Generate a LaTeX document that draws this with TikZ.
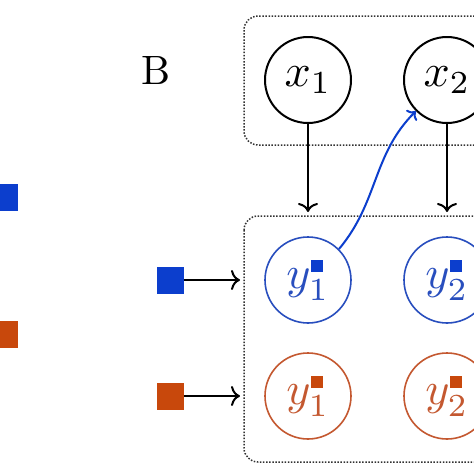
\documentclass[tikz,border=0pt]{standalone}
\usepackage{graphicx}
\usetikzlibrary{arrows.meta}
\definecolor{sqblue}{RGB}{12,62,205}
\definecolor{sqorange}{RGB}{200,72,12}
\definecolor{cblue}{RGB}{40,78,190}
\definecolor{corange}{RGB}{196,88,48}
\definecolor{boxgray}{RGB}{50,50,50}
\newcommand{\bsq}{\textcolor{sqblue}{\rule{2.6pt}{2.6pt}}}
\newcommand{\osq}{\textcolor{sqorange}{\rule{2.6pt}{2.6pt}}}
\newcommand{\myhuge}[1]{\scalebox{4.6}{#1}}
\begin{document}
\begin{tikzpicture}[x=1pt,y=-1pt,
  bignode/.style={circle,minimum size=86pt,inner sep=0pt},
  xnode/.style={bignode,draw=black,line width=2pt},
  bnode/.style={bignode,draw=cblue,text=cblue,line width=1.6pt},
  onode/.style={bignode,draw=corange,text=corange,line width=1.6pt},
  sq/.style={rectangle,minimum size=27pt,inner sep=0pt},
  plate/.style={draw=boxgray,line width=1.5pt,dash pattern=on 1.5pt off 1.6pt,rounded corners=14pt},
  arr/.style={line width=2pt,-{To[length=9pt,width=20pt]}},
  barr/.style={draw=sqblue,line width=2pt,-{To[length=7pt,width=15pt]}}]
\path[use as bounding box] (0,0) rectangle (474,474);
\clip (0,0) rectangle (474,474);
\fill[white] (0,0) rectangle (474,474);
% plates
\draw[plate] (244,16) rectangle (620,145);
\draw[plate] (244,216) rectangle (620,462);
% label
\node (lab) at (156,70) {\scalebox{4.1}{B}};
% nodes
\node[xnode] (x1) at (308,80) {\myhuge{$x_1$}};
\node[xnode] (x2) at (447,80) {\myhuge{$x_2$}};
\node[bnode] (yb1) at (308,280) {\myhuge{$y^{\bsq}_1$}};
\node[bnode] (yb2) at (447,280) {\myhuge{$y^{\bsq}_2$}};
\node[onode] (yo1) at (308,396) {\myhuge{$y^{\osq}_1$}};
\node[onode] (yo2) at (447,396) {\myhuge{$y^{\osq}_2$}};
% squares
\node[sq,fill=sqblue] (sb) at (170,280) {};
\node[sq,fill=sqorange] (so) at (170,396) {};
\node[sq,fill=sqblue] (lb) at (4,197) {};
\node[sq,fill=sqorange] (lo) at (4,334) {};
% arrow end coordinates
\coordinate (e1) at (308,212);
\coordinate (e2) at (447,212);
\coordinate (eb) at (240,280);
\coordinate (eo) at (240,396);
\draw[arr] (x1) -- (e1);
\draw[arr] (x2) -- (e2);
\draw[arr] (sb) -- (eb);
\draw[arr] (so) -- (eo);
\draw[barr] (yb1.45) to[out=50,in=225] (x2.225);
\end{tikzpicture}
\end{document}
